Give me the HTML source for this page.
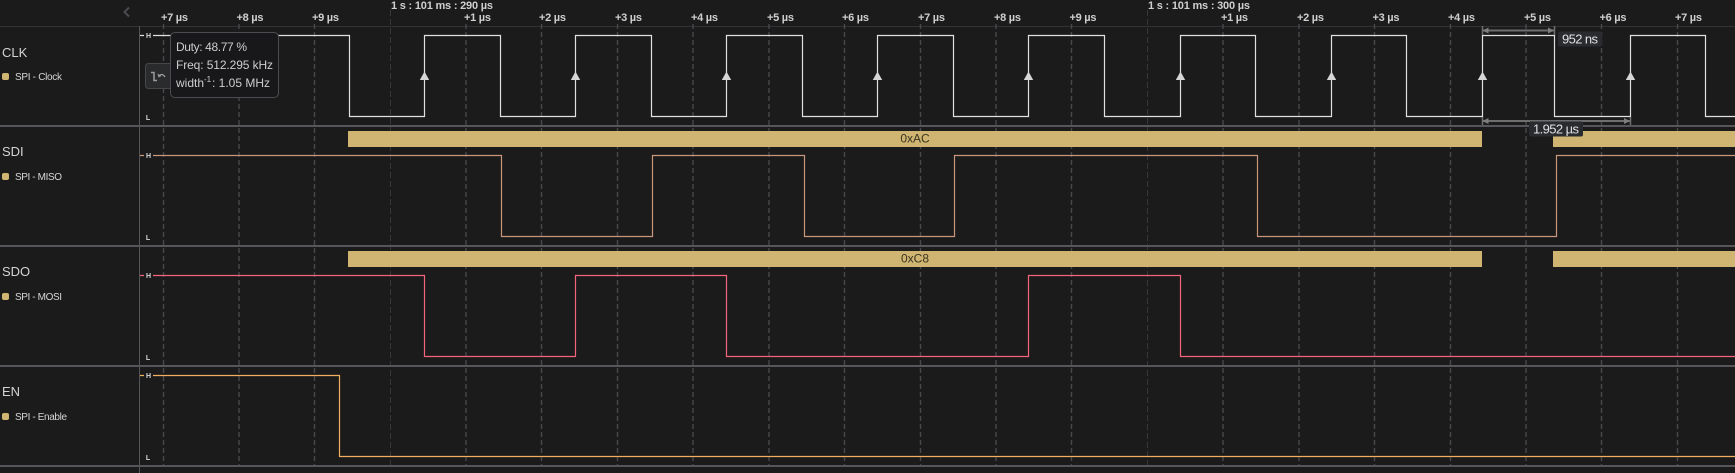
<!DOCTYPE html>
<html><head><meta charset="utf-8"><style>
html,body{margin:0;padding:0;background:#1b1b1b;width:1735px;height:473px;overflow:hidden}
svg{display:block}
text{font-family:"Liberation Sans",sans-serif}
.t{font-size:11px;font-weight:bold;fill:#cfcfcf}
.n{font-size:13px;fill:#d4d4d4}
.s{font-size:10px;fill:#d6d6d6}
.h{font-size:7px;font-weight:bold;fill:#dcdcdc;text-anchor:middle}
.b{font-size:12px;fill:#3a3420;text-anchor:middle}
.p{font-size:12px;fill:#cdcdcd}
.m{font-size:13px;fill:#e2e2e2;text-anchor:middle}
</style></head><body>
<svg width="1735" height="473" viewBox="0 0 1735 473" xmlns="http://www.w3.org/2000/svg">
<rect width="1735" height="473" fill="#1b1b1b"/>
<path d="M0 26.5H1735" stroke="#333336" stroke-width="1"/>
<path d="M139.5 26V473" stroke="#55555a" stroke-width="1"/>
<!-- grid -->
<path d="M163.5 24V466M239 24V466M314.5 24V466M466 24V466M541.5 24V466M617.5 24V466M693 24V466M769 24V466M844.5 24V466M920.5 24V466M996 24V466M1071.5 24V466M1223 24V466M1299 24V466M1374.5 24V466M1450.5 24V466M1526 24V466M1601.5 24V466M1677.5 24V466" stroke="#48484d" stroke-width="1.4" stroke-dasharray="5 3" fill="none"/>
<path d="M390.5 10V466M1147.5 10V466" stroke="#38383c" stroke-width="1" stroke-dasharray="6 3" fill="none"/>
<!-- separators -->
<path d="M0 126H1735M0 246H1735M0 366H1735M0 466H1735" stroke="#55555a" stroke-width="2" fill="none"/>
<!-- tick labels -->
<text class="t" x="161" y="21" textLength="27">+7 µs</text>
<text class="t" x="236.5" y="21" textLength="27">+8 µs</text>
<text class="t" x="312" y="21" textLength="27">+9 µs</text>
<text class="t" x="391" y="9" textLength="102">1 s : 101 ms : 290 µs</text>
<text class="t" x="464" y="21" textLength="27">+1 µs</text>
<text class="t" x="539" y="21" textLength="27">+2 µs</text>
<text class="t" x="615" y="21" textLength="27">+3 µs</text>
<text class="t" x="691" y="21" textLength="27">+4 µs</text>
<text class="t" x="767" y="21" textLength="27">+5 µs</text>
<text class="t" x="842" y="21" textLength="27">+6 µs</text>
<text class="t" x="918" y="21" textLength="27">+7 µs</text>
<text class="t" x="994" y="21" textLength="27">+8 µs</text>
<text class="t" x="1069.5" y="21" textLength="27">+9 µs</text>
<text class="t" x="1148" y="9" textLength="102">1 s : 101 ms : 300 µs</text>
<text class="t" x="1221" y="21" textLength="27">+1 µs</text>
<text class="t" x="1297" y="21" textLength="27">+2 µs</text>
<text class="t" x="1372.5" y="21" textLength="27">+3 µs</text>
<text class="t" x="1448" y="21" textLength="27">+4 µs</text>
<text class="t" x="1524" y="21" textLength="27">+5 µs</text>
<text class="t" x="1599.5" y="21" textLength="27">+6 µs</text>
<text class="t" x="1675" y="21" textLength="27">+7 µs</text>
<!-- chevron -->
<path d="M129 7.5L124.5 12L129 16.5" stroke="#4c4c50" stroke-width="2" fill="none"/>
<!-- left labels -->
<text class="n" x="2" y="57">CLK</text>
<rect x="2" y="73" width="7" height="7" rx="2" fill="#cfb571"/><text class="s" x="15" y="80" textLength="47">SPI - Clock</text>
<text class="n" x="2" y="156">SDI</text>
<rect x="2" y="173" width="7" height="7" rx="2" fill="#cfb571"/><text class="s" x="15" y="180" textLength="47">SPI - MISO</text>
<text class="n" x="2" y="276">SDO</text>
<rect x="2" y="293" width="7" height="7" rx="2" fill="#cfb571"/><text class="s" x="15" y="300" textLength="47">SPI - MOSI</text>
<text class="n" x="2" y="396">EN</text>
<rect x="2" y="413" width="7" height="7" rx="2" fill="#cfb571"/><text class="s" x="15" y="420" textLength="52">SPI - Enable</text>
<!-- annotation bars -->
<rect x="348" y="131" width="1134" height="16" fill="#cfb571"/>
<rect x="1553" y="131" width="182" height="16" fill="#cfb571"/>
<rect x="348" y="251" width="1134" height="16" fill="#cfb571"/>
<rect x="1553" y="251" width="182" height="16" fill="#cfb571"/>
<text class="b" x="915" y="142.5">0xAC</text>
<text class="b" x="915" y="262.5">0xC8</text>
<!-- signals -->
<path d="M140 35.5H349.5V116.5H424.5V35.5H500.5V116.5H575.5V35.5H651.5V116.5H726.5V35.5H802.5V116.5H877.5V35.5H953.5V116.5H1028.5V35.5H1104.5V116.5H1180.5V35.5H1255.5V116.5H1331.5V35.5H1406.5V116.5H1482.5V35.5H1554.5V116.5H1630.5V35.5H1705.5V116.5H1735" fill="none" stroke="#e0e0e0" stroke-width="1.2"/>
<path d="M140 155.5H501.5V236.5H652.5V155.5H804.5V236.5H954.5V155.5H1257.5V236.5H1556.5V155.5H1735" fill="none" stroke="#c9967c" stroke-width="1.2"/>
<path d="M140 275.5H424.5V356.5H575.5V275.5H726.5V356.5H1028.5V275.5H1180.5V356.5H1735" fill="none" stroke="#f3647c" stroke-width="1.2"/>
<path d="M140 375.5H339.5V456.5H1735" fill="none" stroke="#f0ae5e" stroke-width="1.2"/>
<!-- edge markers -->
<g fill="#d6d6d6">
<path d="M424.5 71.5l4.7 8.5h-9.4z"/><path d="M575.5 71.5l4.7 8.5h-9.4z"/><path d="M726.5 71.5l4.7 8.5h-9.4z"/><path d="M877.5 71.5l4.7 8.5h-9.4z"/><path d="M1028.5 71.5l4.7 8.5h-9.4z"/><path d="M1180.5 71.5l4.7 8.5h-9.4z"/><path d="M1331.5 71.5l4.7 8.5h-9.4z"/><path d="M1482.5 71.5l4.7 8.5h-9.4z"/><path d="M1630.5 71.5l4.7 8.5h-9.4z"/>
</g>
<!-- H/L -->
<g fill="#1b1b1b">
<rect x="144" y="30" width="9" height="10" rx="3"/><rect x="144" y="112" width="9" height="11" rx="3"/>
<rect x="144" y="150" width="9" height="10" rx="3"/><rect x="144" y="232" width="9" height="11" rx="3"/>
<rect x="144" y="270" width="9" height="10" rx="3"/><rect x="144" y="352" width="9" height="11" rx="3"/>
<rect x="144" y="370" width="9" height="10" rx="3"/><rect x="144" y="452" width="9" height="11" rx="3"/>
</g>
<text class="h" x="148.5" y="38">H</text><text class="h" x="148" y="120">L</text>
<text class="h" x="148.5" y="158">H</text><text class="h" x="148" y="240">L</text>
<text class="h" x="148.5" y="278">H</text><text class="h" x="148" y="360">L</text>
<text class="h" x="148.5" y="378">H</text><text class="h" x="148" y="460">L</text>
<!-- edge button -->
<rect x="145.5" y="63.5" width="28" height="25" rx="3" fill="#2a2b2d" stroke="#47474b"/>
<path d="M151 72.5h3v8h3" stroke="#9c9c9c" stroke-width="1.5" fill="none"/>
<path d="M159 76q3-3.5 6 1" stroke="#9c9c9c" stroke-width="1.3" fill="none"/><path d="M157.5 73.5l1 4 3-1.5z" fill="#9c9c9c"/>
<!-- tooltip -->
<rect x="170.5" y="32.5" width="108" height="65" rx="4.5" fill="#18181a" stroke="#4c4c50"/>
<text class="p" x="176" y="51" textLength="71">Duty: 48.77 %</text>
<text class="p" x="176" y="69" textLength="97">Freq: 512.295 kHz</text>
<text class="p" x="176" y="87" textLength="28">width</text>
<text class="p" x="204" y="82" style="font-size:8px">-1</text>
<text class="p" x="212" y="87" textLength="58">: 1.05 MHz</text>
<!-- measurements -->
<g stroke="#6e6e6e" stroke-width="2" fill="none"><path d="M1482 30.5H1554M1482 121H1630"/></g>
<g stroke="#6e6e6e" stroke-width="1.5" fill="none"><path d="M1482.5 26V35M1554.5 26V35M1482.5 117V125M1630.5 117V125"/></g>
<g fill="#7e7e7e"><path d="M1482.5 30.5l6-3v6zM1554 30.5l-6-3v6zM1482.5 121l6-3v6zM1630 121l-6-3v6z"/></g>
<rect x="1558" y="31.5" width="44" height="15" rx="2" fill="#2a2b2e"/>
<text class="m" x="1580" y="43.5" textLength="36">952 ns</text>
<rect x="1529" y="121.5" width="54" height="15" rx="2" fill="#2a2b2e"/>
<text class="m" x="1556" y="133.5" textLength="46">1.952 µs</text>
</svg>
</body></html>
